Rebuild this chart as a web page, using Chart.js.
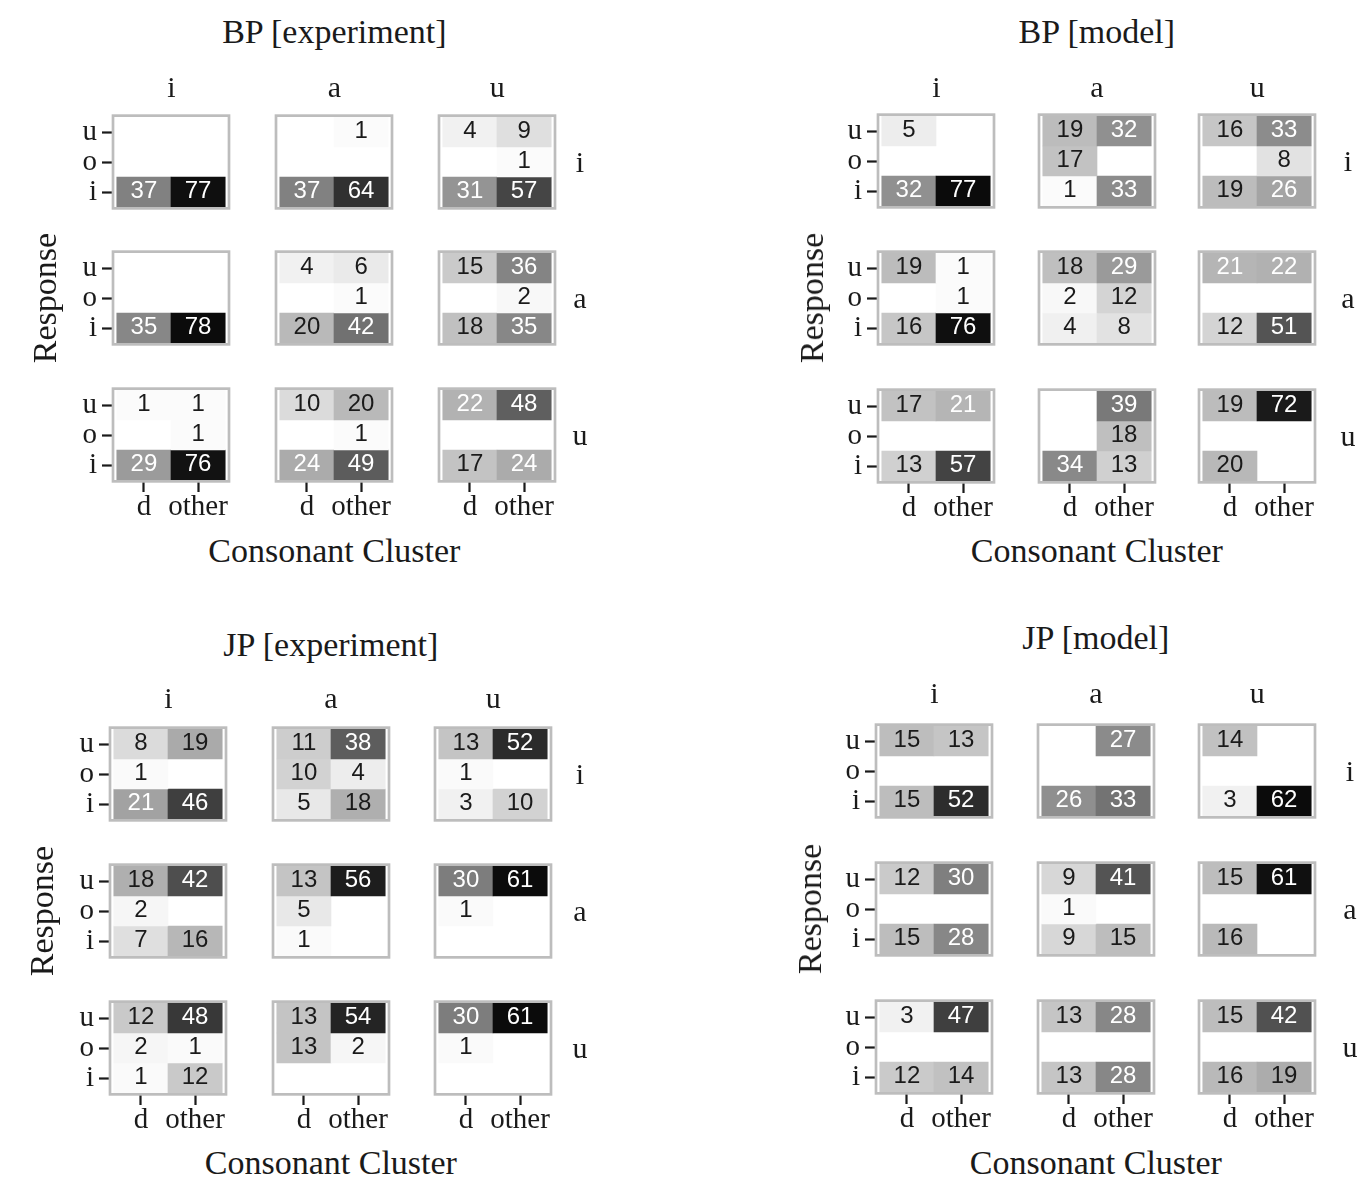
<!DOCTYPE html>
<html>
<head>
<meta charset="utf-8">
<script src="https://cdn.jsdelivr.net/npm/chart.js@4.4.1/dist/chart.umd.min.js"></script>
<style>
  html, body { margin: 0; padding: 0; background: #fff; }
  #page { position: relative; width: 1362px; height: 1179px; overflow: hidden; }
  canvas { position: absolute; }
  .lbl { position: absolute; transform: translate(-50%, -50%); white-space: nowrap;
         font-family: "Liberation Serif", "DejaVu Serif", serif; color: #1a1a1a; line-height: 1; }
  .rot { transform: translate(-50%, -50%) rotate(-90deg); }
</style>
</head>
<body>
<div id="page"></div>
<script>
// facet labels
var vowels = ['i', 'a', 'u'];
var clusters = ['d', 'other'];
var responses = ['u', 'o', 'i'];

// counts: [row vowel][column vowel] -> [[u_d, u_other], [o_d, o_other], [i_d, i_other]]
var bpExperiment = [
  [ [[0,0],[0,0],[37,77]],   [[0,1],[0,0],[37,64]],   [[4,9],[0,1],[31,57]] ],
  [ [[0,0],[0,0],[35,78]],   [[4,6],[0,1],[20,42]],   [[15,36],[0,2],[18,35]] ],
  [ [[1,1],[0,1],[29,76]],   [[10,20],[0,1],[24,49]], [[22,48],[0,0],[17,24]] ]
];
var bpModel = [
  [ [[5,0],[0,0],[32,77]],   [[19,32],[17,0],[1,33]], [[16,33],[0,8],[19,26]] ],
  [ [[19,1],[0,1],[16,76]],  [[18,29],[2,12],[4,8]],  [[21,22],[0,0],[12,51]] ],
  [ [[17,21],[0,0],[13,57]], [[0,39],[0,18],[34,13]], [[19,72],[0,0],[20,0]] ]
];
var jpExperiment = [
  [ [[8,19],[1,0],[21,46]],  [[11,38],[10,4],[5,18]], [[13,52],[1,0],[3,10]] ],
  [ [[18,42],[2,0],[7,16]],  [[13,56],[5,0],[1,0]],   [[30,61],[1,0],[0,0]] ],
  [ [[12,48],[2,1],[1,12]],  [[13,54],[13,2],[0,0]],  [[30,61],[1,0],[0,0]] ]
];
var jpModel = [
  [ [[15,13],[0,0],[15,52]], [[0,27],[0,0],[26,33]],  [[14,0],[0,0],[3,62]] ],
  [ [[12,30],[0,0],[15,28]], [[9,41],[1,0],[9,15]],   [[15,61],[0,0],[16,0]] ],
  [ [[3,47],[0,0],[12,14]],  [[13,28],[0,0],[13,28]], [[15,42],[0,0],[16,19]] ]
];

var SERIF = '"Liberation Serif", "DejaVu Serif", serif';
var INK = '#1a1a1a';
var AXW = 50, AXH = 45, PADT = 24, PADR = 6;
var PW = 116, PH = 90;

// white -> black through CIE L*
function grey(t) {
  var L = 100 - 97 * t;
  var Y = L > 8 ? Math.pow((L + 16) / 116, 3) : L / 903.3;
  var c = Y <= 0.0031308 ? 12.92 * Y : 1.055 * Math.pow(Y, 1 / 2.4) - 0.055;
  var g = Math.round(255 * c);
  return 'rgb(' + g + ',' + g + ',' + g + ')';
}

var cellPlugin = {
  id: 'cellText',
  afterDatasetsDraw: function(chart) {
    var ctx = chart.ctx, a = chart.chartArea;
    ctx.save();
    ctx.font = '24px "Liberation Sans", Arial, sans-serif';
    ctx.textAlign = 'center';
    ctx.textBaseline = 'middle';
    chart.data.datasets.forEach(function(ds, i) {
      chart.getDatasetMeta(i).data.forEach(function(bar, j) {
        var n = ds.data[j].n;
        var p = bar.getCenterPoint();
        ctx.fillStyle = n > 20 ? '#ffffff' : INK;
        ctx.fillText(String(n), p.x, p.y - 1);
      });
    });
    ctx.strokeStyle = '#bdbdbd';
    ctx.lineWidth = 2.7;
    ctx.strokeRect(a.left, a.top - 1.35, a.right - a.left, a.bottom - a.top + 2.7);
    ctx.restore();
  }
};

function label(page, text, x, y, size, rot) {
  var d = document.createElement('div');
  d.className = 'lbl' + (rot ? ' rot' : '');
  d.style.left = x + 'px';
  d.style.top = y + 'px';
  d.style.fontSize = size + 'px';
  d.textContent = text;
  page.appendChild(d);
}

function makeCell(page, counts, vmax, left, top, showY, showX) {
  var canvas = document.createElement('canvas');
  canvas.width = AXW + PW + PADR;
  canvas.height = PADT + PH + AXH;
  canvas.style.left = (left + 1.35 - AXW) + 'px';
  canvas.style.top = (top + 2.7 - PADT) + 'px';
  page.appendChild(canvas);

  var datasets = responses.map(function(resp, r) {
    var lo = responses.length - 1 - r;
    var pts = [];
    clusters.forEach(function(cl, c) {
      var n = counts[r][c];
      if (n > 0) pts.push({ x: c + 0.5, y: [lo, lo + 1], n: n });
    });
    return {
      label: resp,
      data: pts,
      backgroundColor: pts.map(function(p) { return grey(p.n / vmax); }),
      borderWidth: 0,
      grouped: false,
      barPercentage: 1,
      categoryPercentage: 1
    };
  });

  return new Chart(canvas.getContext('2d'), {
    type: 'bar',
    data: { datasets: datasets },
    options: {
      responsive: false,
      animation: false,
      layout: { padding: { top: PADT, right: PADR, left: 0, bottom: 0 } },
      plugins: { legend: { display: false }, tooltip: { enabled: false } },
      scales: {
        x: {
          type: 'linear', min: -0.07, max: 2.07, offset: false,
          afterBuildTicks: function(s) { s.ticks = clusters.map(function(c, i) { return { value: i + 0.5 }; }); },
          afterFit: function(s) { s.height = AXH; },
          ticks: {
            display: showX, autoSkip: false, maxRotation: 0, padding: 1, color: INK,
            font: { family: SERIF, size: 29, lineHeight: 1 },
            callback: function(v) { return clusters[Math.floor(v)]; }
          },
          grid: { display: showX, offset: false, drawOnChartArea: false, tickLength: 12, tickWidth: 2.2, tickColor: INK },
          border: { display: false }
        },
        y: {
          type: 'linear', min: 0, max: 3,
          afterBuildTicks: function(s) { s.ticks = responses.map(function(r, i) { return { value: i + 0.5 }; }); },
          afterFit: function(s) { s.width = AXW; },
          ticks: {
            display: showY, autoSkip: false, padding: 5, color: INK,
            font: { family: SERIF, size: 29, lineHeight: 1 },
            callback: function(v) { return responses[responses.length - 1 - Math.floor(v)]; }
          },
          grid: { display: showY, drawOnChartArea: false, tickLength: 11, tickWidth: 2.2, tickColor: INK },
          border: { display: false }
        }
      }
    },
    plugins: [cellPlugin]
  });
}

var panels = [
  { title: 'BP [experiment]', counts: bpExperiment, ox: 112, oy: 114, dx: 163,   dy: 136.5, titleY: 32,  stripY: 87,  rowX: 580,  respX: 45,  clusterY: 551 },
  { title: 'BP [model]',      counts: bpModel,      ox: 877, oy: 113, dx: 160.5, dy: 137.5, titleY: 32,  stripY: 87,  rowX: 1348, respX: 812, clusterY: 551 },
  { title: 'JP [experiment]', counts: jpExperiment, ox: 109, oy: 726, dx: 162.5, dy: 137,   titleY: 645, stripY: 698, rowX: 580,  respX: 42,  clusterY: 1163 },
  { title: 'JP [model]',      counts: jpModel,      ox: 875, oy: 723, dx: 161.5, dy: 138,   titleY: 638, stripY: 693, rowX: 1350, respX: 810, clusterY: 1163 }
];

var page = document.getElementById('page');
var OUTW = PW + 2.7, OUTH = PH + 5.4;

panels.forEach(function(p) {
  var vmax = 0;
  p.counts.forEach(function(row) { row.forEach(function(cell) { cell.forEach(function(pair) {
    vmax = Math.max(vmax, pair[0], pair[1]);
  }); }); });

  vowels.forEach(function(rv, r) {
    vowels.forEach(function(cv, c) {
      makeCell(page, p.counts[r][c], vmax, p.ox + c * p.dx, p.oy + r * p.dy, c === 0, r === vowels.length - 1);
    });
  });

  var cx = (p.ox + p.ox + 2 * p.dx + OUTW) / 2;
  var cy = (p.oy + p.oy + 2 * p.dy + OUTH) / 2;
  label(page, p.title, cx, p.titleY, 34);
  vowels.forEach(function(v, i) {
    label(page, v, p.ox + i * p.dx + OUTW / 2, p.stripY, 30);
    label(page, v, p.rowX, p.oy + i * p.dy + OUTH / 2, 30);
  });
  label(page, 'Consonant Cluster', cx, p.clusterY, 34);
  label(page, 'Response', p.respX, cy, 34, true);
});
</script>
</body>
</html>
